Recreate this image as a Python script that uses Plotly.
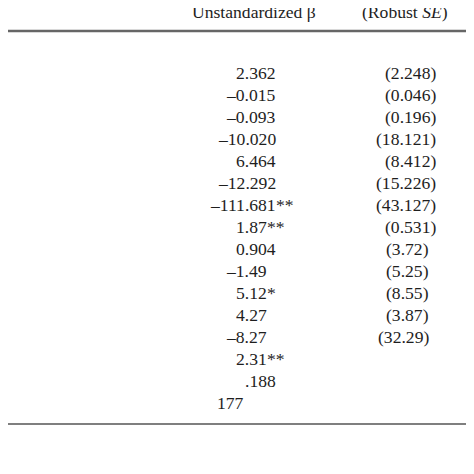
import plotly.graph_objects as go

labels = ["", "ate 1997", "income", "Index", "sehold 1990", "merican population",
          "amily Incomes", "g $", "", "", "", "", "", "", "", "ations"]
label_sup = ["", "", "a", "", "", "", "", "", "", "", "", "", "", "", "", ""]
betas = ["2.362", "–0.015", "–0.093", "–10.020", "6.464", "–12.292", "–111.681",
         "1.87", "0.904", "–1.49", "5.12", "4.27", "–8.27", "2.31", ".188", "177"]
stars = ["", "", "", "", "", "", "**", "**", "", "", "*", "", "", "**", "", ""]
ses = ["(2.248)", "(0.046)", "(0.196)", "(18.121)", "(8.412)", "(15.226)", "(43.127)",
       "(0.531)", "(3.72)", "(5.25)", "(8.55)", "(3.87)", "(32.29)", "", "", ""]
headers = ["bles", "Unstandardized β", "(Robust <i>SE</i>)"]
footnotes = [",000 for presentation clarity.", "d. **<i>p</i> < .01, one-tailed."]

FONT = dict(family="Liberation Serif, Times New Roman, serif", size=17.6, color="#1e1e1e")
fig = go.Figure()
ann = []
def add(x, y, t, anchor, xshift=0):
    ann.append(dict(x=x, y=y, xref="x", yref="y", text=t, showarrow=False,
                    xanchor=anchor, yanchor="middle", font=FONT, xshift=xshift,
                    borderpad=0))

add(-1, 12, headers[0], "left")
add(254, 12, headers[1], "center")
add(405, 12, headers[2], "center")
y0, dy = 73, 22
for i in range(len(betas)):
    y = y0 + i * dy
    lab = labels[i] + (f"<sup>{label_sup[i]}</sup>" if label_sup[i] else "")
    if lab:
        add(-1, y, lab, "left")
    b = betas[i]
    if "." in b and len(b.split(".")[1]) == 2:
        bx = 268
    elif b == "177":
        bx = 245
    else:
        bx = 277
    add(bx, y, b, "right")
    if stars[i]:
        add(bx, y, stars[i], "left", xshift=-2)
    s = ses[i]
    if s:
        sx = 437 if len(s.split(".")[1]) == 4 else 430
        add(sx, y, s, "right")
add(-1, 442, footnotes[0], "left")
add(-1, 462, footnotes[1], "left")

fig.update_layout(
    width=474, height=474, margin=dict(l=0, r=0, t=0, b=0),
    plot_bgcolor="white", paper_bgcolor="white", annotations=ann,
    xaxis=dict(range=[8, 482], visible=False, fixedrange=True),
    yaxis=dict(range=[482, 8], visible=False, fixedrange=True),
    shapes=[dict(type="line", x0=0, x1=490, y0=31, y1=31, xref="x", yref="y",
                 line=dict(color="#666", width=2.5)),
            dict(type="line", x0=0, x1=490, y0=424, y1=424, xref="x", yref="y",
                 line=dict(color="#555", width=1.5))],
)
fig.write_html("out.html")
